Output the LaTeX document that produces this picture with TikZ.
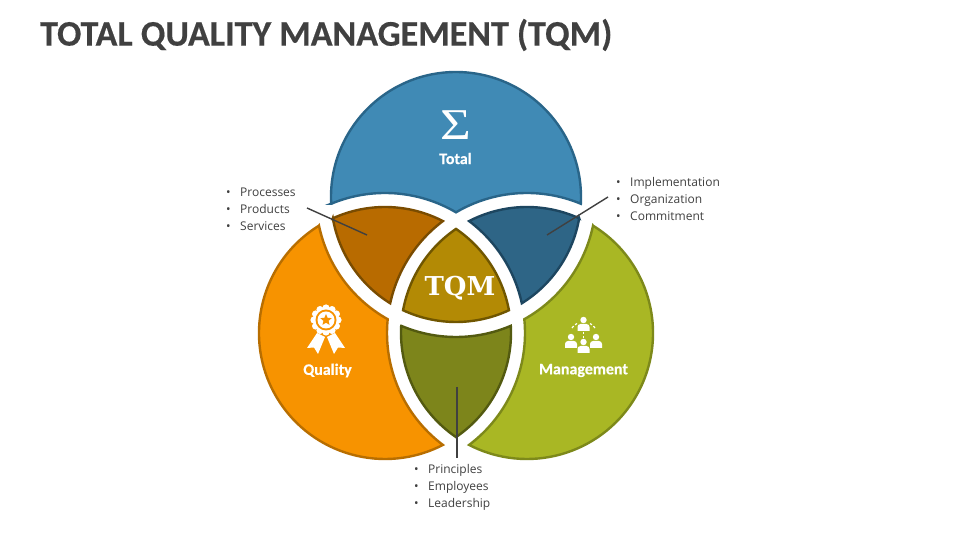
\documentclass[tikz,border=0pt]{standalone}
\usepackage{fontspec}
\setmainfont{Carlito}
\newfontfamily\headfont[BoldFeatures={FakeBold=0.4}]{Carlito}
\newfontfamily\listfont{Open Sans}
\newfontfamily\slabfont{DejaVu Serif}
\newfontfamily\sigmafont{Liberation Serif}
\usetikzlibrary{shapes.geometric, positioning, calc}
\definecolor{tqmtext}{RGB}{64, 64, 64}
\definecolor{tqmblue}{RGB}{64, 138, 181}
\definecolor{tqmblueline}{RGB}{41, 101, 137}
\definecolor{tqmorange}{RGB}{247, 147, 0}
\definecolor{tqmorangeline}{RGB}{184, 110, 0}
\definecolor{tqmolive}{RGB}{169, 183, 36}
\definecolor{tqmoliveline}{RGB}{125, 137, 26}
\definecolor{tqmbrown}{RGB}{184, 107, 0}
\definecolor{tqmbrownline}{RGB}{122, 76, 0}
\definecolor{tqmdeep}{RGB}{46, 101, 134}
\definecolor{tqmdeepline}{RGB}{29, 70, 96}
\definecolor{tqmgold}{RGB}{179, 138, 5}
\definecolor{tqmgoldline}{RGB}{112, 86, 0}
\definecolor{tqmmoss}{RGB}{125, 133, 27}
\definecolor{tqmmossline}{RGB}{83, 90, 16}
\newcommand{\bitem}[1]{\makebox[14pt][l]{\textbullet}#1}
\tikzset{
  part/.style={line width=2.4pt, line join=miter},
  leader/.style={draw=tqmtext, line width=1.4pt},
  biglabel/.style={text=white, font=\headfont\fontsize{16}{18}\selectfont\bfseries, inner sep=0pt},
  itemlist/.style={text=tqmtext, font=\listfont\fontsize{12}{17}\selectfont, align=left, inner sep=0pt, anchor=west}
}
\begin{document}
\begin{tikzpicture}[x=1pt,y=1pt]
\useasboundingbox (0,0) rectangle (960,540);
\fill[white] (0,0) rectangle (960,540);
% Centres of the three circles
\coordinate (T) at (456,343);
\coordinate (L) at (385,207);
\coordinate (R) at (527,207);
% Title
\node[text=tqmtext, font=\headfont\fontsize{36}{40}\selectfont\bfseries, anchor=west, inner sep=0pt] (title) at (40,505) {TOTAL QUALITY MANAGEMENT (TQM)};
% Outer parts
\draw[part, fill=tqmblue, draw=tqmblueline] ([shift={(183.10:125)}]T) arc[start angle=183.10,end angle=-3.10,radius=125]
  arc[start angle=67.38,end angle=120.47,radius=140] arc[start angle=59.53,end angle=112.62,radius=140] -- cycle;
\draw[part, fill=tqmorange, draw=tqmorangeline] ([shift={(121.61:126)}]L) arc[start angle=121.61,end angle=297.35,radius=126]
  arc[start angle=233.07,end angle=174.34,radius=140] arc[start angle=240.79,end angle=191.82,radius=140] -- cycle;
\draw[part, fill=tqmolive, draw=tqmoliveline] ([shift={(58.39:126)}]R) arc[start angle=58.39,end angle=-117.35,radius=126]
  arc[start angle=-53.07,end angle=5.66,radius=140] arc[start angle=299.21,end angle=348.18,radius=140] -- cycle;
% Overlaps
\draw[part, fill=tqmbrown, draw=tqmbrownline] ([shift={(114.46:126)}]L) arc[start angle=114.46,end angle=62.65,radius=126]
  arc[start angle=126.93,end angle=167.74,radius=140] arc[start angle=238.23,end angle=189.81,radius=125] -- cycle;
\draw[part, fill=tqmdeep, draw=tqmdeepline] ([shift={(65.54:126)}]R) arc[start angle=65.54,end angle=117.35,radius=126]
  arc[start angle=53.07,end angle=12.26,radius=140] arc[start angle=301.77,end angle=350.19,radius=125] -- cycle;
\draw[part, fill=tqmmoss, draw=tqmmossline] ([shift={(246.96:140)}]T) arc[start angle=246.96,end angle=293.04,radius=140]
  arc[start angle=3.26,end angle=-55.70,radius=126] arc[start angle=235.70,end angle=176.74,radius=126] -- cycle;
\draw[part, fill=tqmgold, draw=tqmgoldline] ([shift={(55.70:126)}]L) arc[start angle=55.70,end angle=10.41,radius=126]
  arc[start angle=-64.95,end angle=-115.05,radius=125] arc[start angle=169.59,end angle=124.30,radius=126] -- cycle;
% Labels
\node[text=white, font=\slabfont\fontsize{26}{30}\selectfont\bfseries, inner sep=0pt] (tqmlabel) at (460,251.5) {TQM};
\node[biglabel] (totallabel) at (455.5,381.5) {Total};
\node[biglabel] (qualitylabel) at (327.5,169.5) {Quality};
\node[biglabel] (managementlabel) at (583.5,169.5) {Management};
% Sigma icon
\node[text=white, xscale=1.2, font=\sigmafont\fontsize{44}{44}\selectfont, inner sep=0pt] (sigmaicon) at (456,415) {Σ};
% Rosette icon
\foreach \a in {0,30,...,330}
  \fill[white] ([shift={(\a:12)}]326,220) circle (3.6);
\fill[white] (326,220) circle (12.5);
\fill[tqmorange] (326,220) circle (10.5);
\fill[white] (326,220) circle (8.5);
\node[star, star points=5, star point ratio=2.2, fill=tqmorange, minimum size=12pt, inner sep=0pt] (rosettestar) at (326,220) {};
\fill[white] (317,207) -- (307,192) -- (314,192.5) -- (318,186) -- (325,203) -- cycle;
\fill[white] (335,207) -- (345,192) -- (338,192.5) -- (334,186) -- (327,203) -- cycle;
% People icon
\foreach \x/\y in {583.5/220, 571/203, 596/203, 583.5/198} {
  \fill[white] (\x,\y) circle (3.2);
  \fill[white] (\x-6,\y-11) -- (\x-6,\y-7) arc[start angle=180,end angle=90,radius=3] -- (\x+3,\y-4) arc[start angle=90,end angle=0,radius=3] -- (\x+6,\y-11) -- cycle;
}
\draw[white, line width=1.2pt, dash pattern=on 2.5pt off 2pt] (572,212) to[bend left=15] (577,216.5);
\draw[white, line width=1.2pt, dash pattern=on 2.5pt off 2pt] (595,212) to[bend right=15] (590,216.5);
\draw[white, line width=1.2pt, dash pattern=on 2.5pt off 2pt] (583.5,208) -- (583.5,202);
% Lists
\node[itemlist] (processlist) at (226,331) {\bitem{Processes}\\\bitem{Products}\\\bitem{Services}};
\node[itemlist] (implementlist) at (616,341) {\bitem{Implementation}\\\bitem{Organization}\\\bitem{Commitment}};
\node[itemlist] (principlelist) at (414,53) {\bitem{Principles}\\\bitem{Employees}\\\bitem{Leadership}};
% Leader lines
\coordinate (processstart) at (307,332);
\coordinate (processend) at (367,305);
\coordinate (implementstart) at (608,343);
\coordinate (implementend) at (547,305);
\coordinate (principlestart) at (457,153);
\coordinate (principleend) at (457,82);
\draw[leader] (processstart) -- (processend);
\draw[leader] (implementstart) -- (implementend);
\draw[leader] (principlestart) -- (principleend);
\end{tikzpicture}
\end{document}
